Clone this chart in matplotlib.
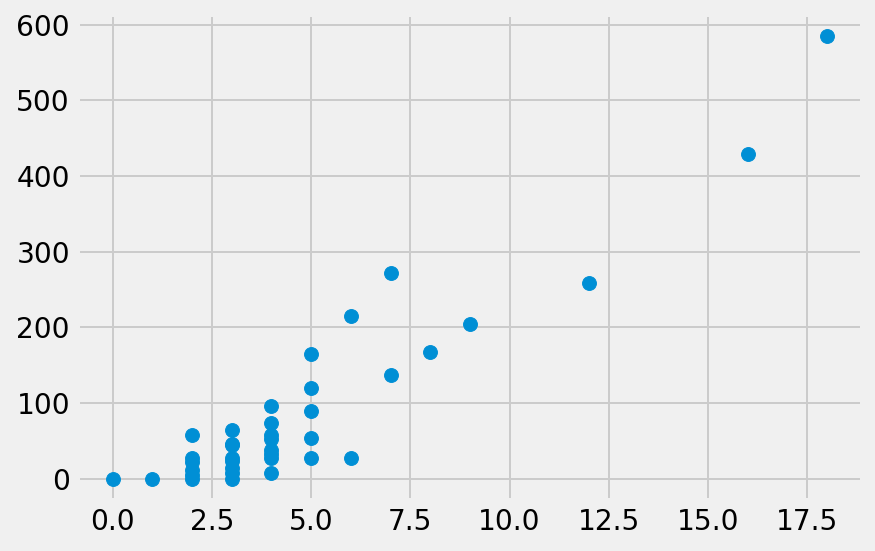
import matplotlib
matplotlib.use('Agg')
import matplotlib.pyplot as plt

# values
x_vals = [0, 1,
          2, 2, 2, 2, 2, 2,
          3, 3, 3, 3, 3, 3, 3, 3,
          4, 4, 4, 4, 4, 4, 4, 4,
          5, 5, 5, 5, 5,
          6, 6, 7, 7, 8, 9, 12, 16, 18]
y_vals = [0, 0,
          58, 28, 22, 12, 5, 0,
          64, 46, 44, 28, 24, 14, 8, 0,
          96, 74, 58, 53, 38, 32, 27, 7,
          165, 120, 90, 54, 27,
          215, 27, 272, 137, 168, 204, 258, 429, 585]

plt.style.use('fivethirtyeight')

fig = plt.figure(figsize=(875 / 144, 551 / 144), dpi=144)
ax = fig.add_subplot(111)
ax.scatter(x_vals, y_vals, s=48)
fig.subplots_adjust(left=0.088, right=0.986, top=0.975, bottom=0.091)

plt.savefig('out.png', dpi=144)
